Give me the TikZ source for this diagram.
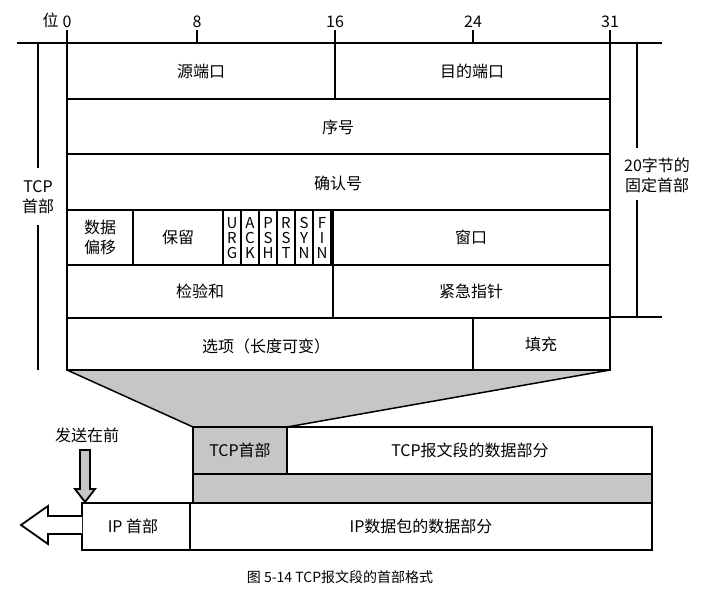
\documentclass[tikz,border=0pt]{standalone}
\usepackage{fontspec}
\setmainfont{Noto Sans CJK SC}
\begin{document}
\begin{tikzpicture}[x=1pt,y=-1pt,line width=2.6pt,
  lbl/.style={font=\fontsize{16}{20}\selectfont,inner sep=0pt},
  flag/.style={font=\fontsize{15}{15}\selectfont,inner sep=0pt,align=center}]
\useasboundingbox (0,0) rectangle (715,599);
% ruler
\draw (17,43) -- (662,43);
\foreach \x/\t in {67/0,197/8,335/16,473/24,610/31}{
  \draw (\x,43) -- (\x,30);
  \node[lbl,above] (t\t) at (\x,29) {\t};}
\node[lbl,left] (wei) at (60,20) {位};
% left bracket
\draw (38,43) -- (38,168);
\draw (38,225) -- (38,370);
\node[lbl,align=center] (tcph) at (38,197) {TCP\\首部};
% right bracket
\draw (637,43) -- (637,148);
\draw (637,200) -- (637,317);
\draw (610,317) -- (662,317);
\node[lbl,align=center] (fix) at (657,175) {20字节的\\固定首部};
% gray trapezoid
\fill[gray!45] (67,370) -- (610,370) -- (287,427) -- (193,427) -- cycle;
\draw[line width=1.5pt] (67,370) -- (193,427);
\draw[line width=1.5pt] (610,370) -- (287,427);
% table
\draw (67,43) rectangle (610,370);
\foreach \y in {99,154,210,265,318} \draw (67,\y) -- (610,\y);
\draw (335,43) -- (335,99);
\draw (133,210) -- (133,265);
\draw (223,210) -- (223,265);
\foreach \x in {241,259,277,295,313,331} \draw[line width=1.6pt] (\x,210) -- (\x,265);
\draw (333,210) -- (333,318);
\draw (473,318) -- (473,370);
\node[lbl] (src) at (201,71) {源端口};
\node[lbl] (dst) at (472,71) {目的端口};
\node[lbl] (seq) at (338,127) {序号};
\node[lbl] (ack) at (338,183) {确认号};
\node[lbl,align=center] (off) at (100,237) {数据\\偏移};
\node[lbl] (res) at (178,237) {保留};
\foreach \x/\t in {232/{U\\R\\G},250/{A\\C\\K},268/{P\\S\\H},286/{R\\S\\T},304/{S\\Y\\N},322/{F\\I\\N}}
  \node[flag] at (\x,238) {\t};
\node[lbl] (win) at (471,237) {窗口};
\node[lbl] (chk) at (200,291) {检验和};
\node[lbl] (urg) at (471,291) {紧急指针};
\node[lbl] (opt) at (266,346) {选项（长度可变）};
\node[lbl] (pad) at (541,344) {填充};
% TCP segment
\fill[gray!45] (193,427) rectangle (287,474);
\fill[gray!45] (193,474) rectangle (652,503);
\draw (193,427) rectangle (652,503);
\draw (193,474) -- (652,474);
\draw (287,427) -- (287,474);
\node[lbl] (tcpH) at (240,450) {TCP首部};
\node[lbl] (tcpD) at (470,450) {TCP报文段的数据部分};
% IP
\draw (82,503) rectangle (652,550);
\draw (190,503) -- (190,550);
\node[lbl] (ipH) at (133,526) {IP 首部};
\node[lbl] (ipD) at (421,526) {IP数据包的数据部分};
% arrows
\node[lbl] (first) at (87,435) {发送在前};
\draw[fill=gray!45,line width=1.8pt] (80,450) -- (90,450) -- (90,489) -- (95,489) -- (85,502) -- (75,489) -- (80,489) -- cycle;
\draw[fill=white,line width=1.8pt] (82,516) -- (48,516) -- (48,506) -- (21,525) -- (48,544) -- (48,534) -- (82,534);
\node[lbl,font=\fontsize{14}{16}\selectfont] (cap) at (340,577) {图 5-14 TCP报文段的首部格式};
\end{tikzpicture}
\end{document}
